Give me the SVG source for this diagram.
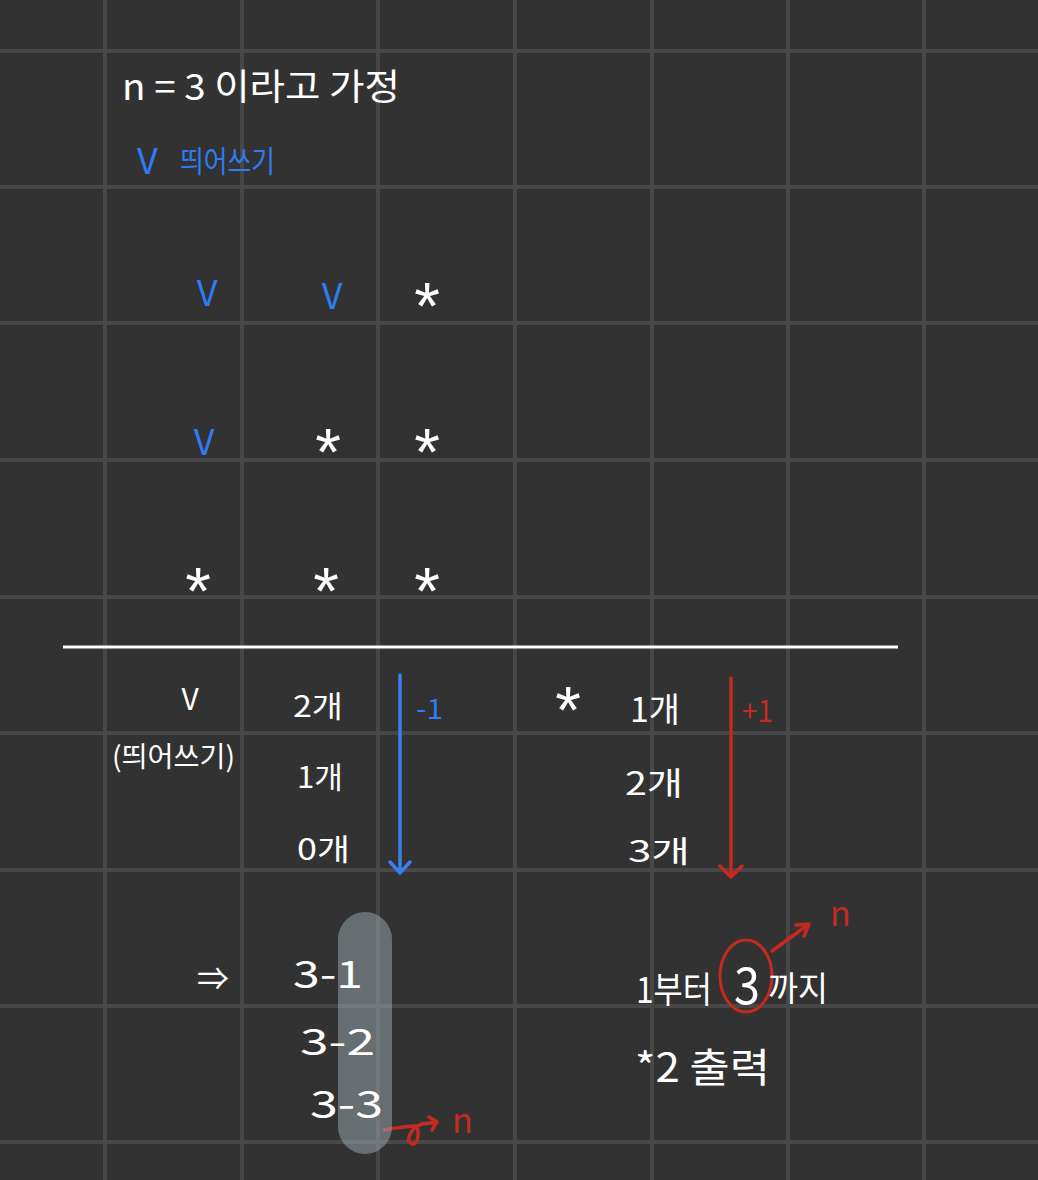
<svg xmlns="http://www.w3.org/2000/svg" width="1038" height="1180" viewBox="0 0 1038 1180">
<style>
.g{stroke:#474747;stroke-width:4;fill:none}
.t{font-family:"Noto Sans CJK KR","Noto Sans",sans-serif;font-weight:400}
.w{fill:#ffffff}
.b{fill:#2f7cf2}
.r{fill:#c42a20}
.ast{font-family:"Liberation Sans",sans-serif;fill:#ffffff;font-size:66px;text-anchor:middle}
.ln{fill:none;stroke-width:3.5;stroke-linecap:round;stroke-linejoin:round}
</style>
<rect width="1038" height="1180" fill="#323232"/>
<g id="grid">
<path class="g" d="M105 0V1180M242 0V1180M378 0V1180M515 0V1180M652 0V1180M788 0V1180M924 0V1180"/>
<path class="g" d="M0 51H1038M0 187H1038M0 323H1038M0 460H1038M0 597H1038M0 733H1038M0 870H1038M0 1006H1038M0 1142H1038"/>
</g>
<g id="header">
<text class="t w" x="122" y="100" font-size="36" textLength="278" lengthAdjust="spacingAndGlyphs">n = 3 이라고 가정</text>
<text class="t b" x="137" y="174" font-size="36">V</text>
<text class="t b" x="180" y="172" font-size="30" textLength="95" lengthAdjust="spacingAndGlyphs">띄어쓰기</text>
</g>
<g id="pattern">
<text class="t b" x="207" y="306" font-size="36" text-anchor="middle">V</text>
<text class="t b" x="332" y="309" font-size="36" text-anchor="middle">V</text>
<text class="ast" x="427" y="329">*</text>
<text class="t b" x="204" y="455" font-size="36" text-anchor="middle">V</text>
<text class="ast" x="328" y="475">*</text>
<text class="ast" x="427" y="475">*</text>
<text class="ast" x="198" y="614">*</text>
<text class="ast" x="326" y="614">*</text>
<text class="ast" x="427" y="614">*</text>
</g>
<g id="divider">
<line x1="63" y1="647" x2="898" y2="647" stroke="#ffffff" stroke-width="3"/>
</g>
<g id="space-count">
<text class="t w" x="190" y="710" font-size="30" text-anchor="middle">V</text>
<text class="t w" x="112" y="767" font-size="28" textLength="123" lengthAdjust="spacingAndGlyphs">(띄어쓰기)</text>
<text class="t w" x="293" y="717" font-size="30" textLength="50" lengthAdjust="spacingAndGlyphs">2개</text>
<text class="t w" x="297" y="788" font-size="30" textLength="46" lengthAdjust="spacingAndGlyphs">1개</text>
<text class="t w" x="297" y="860" font-size="30" textLength="53" lengthAdjust="spacingAndGlyphs">0개</text>
<text class="t b" x="416" y="719" font-size="28" textLength="27" lengthAdjust="spacingAndGlyphs">-1</text>
</g>
<g id="star-count">
<text class="ast" x="568" y="733">*</text>
<text class="t w" x="630" y="722" font-size="34" textLength="50" lengthAdjust="spacingAndGlyphs">1개</text>
<text class="t w" x="625" y="795" font-size="32" textLength="58" lengthAdjust="spacingAndGlyphs">2개</text>
<text class="t w" x="628" y="862" font-size="30" textLength="62" lengthAdjust="spacingAndGlyphs">3개</text>
<text class="t r" x="742" y="722" font-size="30" textLength="31" lengthAdjust="spacingAndGlyphs">+1</text>
</g>
<g id="connectors">
<path class="ln" stroke="#3a7ff0" d="M400 675V872M390 862L400 873L410 862"/>
<path class="ln" stroke="#c42a20" d="M731 678V876M720 866L731 877L742 866"/>
<ellipse cx="746" cy="976" rx="26" ry="36" fill="none" stroke="#c42a20" stroke-width="3"/>
<path class="ln" stroke="#c42a20" d="M772 951L809 924M796 925L809 924L804 936"/>
<path class="ln" stroke="#c42a20" d="M384 1130C395 1128 405 1126 416 1126C420 1132 418 1145 412 1144C405 1142 410 1128 422 1124C428 1123 434 1123 437 1122M429 1117L437 1122L432 1130"/>
</g>
<g id="formula">
<rect x="338" y="912" width="54" height="242" rx="27" fill="#9aaab0" fill-opacity="0.5"/>
<text class="t w" x="197" y="990" font-size="32">⇒</text>
<text class="t w" x="293" y="988" font-size="38" textLength="70" lengthAdjust="spacingAndGlyphs">3-1</text>
<text class="t w" x="300" y="1055" font-size="36" textLength="75" lengthAdjust="spacingAndGlyphs">3-2</text>
<text class="t w" x="310" y="1118" font-size="38" textLength="73" lengthAdjust="spacingAndGlyphs">3-3</text>
<text class="t r" x="452" y="1133" font-size="34">n</text>
</g>
<g id="range">
<text class="t w" x="636" y="1003" font-size="36" textLength="76" lengthAdjust="spacingAndGlyphs">1부터</text>
<text class="t w" x="734" y="1004" font-size="50" textLength="26" lengthAdjust="spacingAndGlyphs">3</text>
<text class="t w" x="768" y="1001" font-size="34" textLength="60" lengthAdjust="spacingAndGlyphs">까지</text>
<text class="t r" x="830" y="926" font-size="34">n</text>
<text class="t w" x="635" y="1082" font-size="40" textLength="135" lengthAdjust="spacingAndGlyphs">*2 출력</text>
</g>
</svg>
